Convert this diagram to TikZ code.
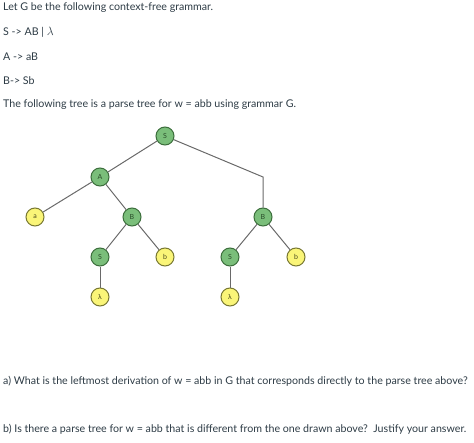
\documentclass[tikz,border=0pt]{standalone}
\usepackage{fontspec}
\setmainfont{Lato}
\usepackage{xcolor}

\definecolor{nodegreen}{RGB}{122,190,122}
\definecolor{edgegreen}{RGB}{60,110,60}
\definecolor{nodeyellow}{RGB}{250,245,120}
\definecolor{edgeyellow}{RGB}{120,120,50}
\definecolor{linegray}{RGB}{105,105,105}
\definecolor{textgray}{RGB}{45,59,69}

\begin{document}
\begin{tikzpicture}[x=1pt,y=-1pt,
  var/.style={circle,draw=edgegreen,fill=nodegreen,line width=1pt,minimum size=18pt,inner sep=0pt,font=\fontsize{7}{7}\selectfont,text=edgegreen!70!black},
  term/.style={circle,draw=edgeyellow,fill=nodeyellow,line width=1pt,minimum size=18pt,inner sep=0pt,font=\fontsize{7}{7}\selectfont,text=edgeyellow!60!black},
  txt/.style={anchor=west,inner sep=0pt,text=textgray,font=\fontsize{10.65}{12}\selectfont}]
\useasboundingbox (0,0) rectangle (474,442);

\node[txt] (l1) at (3,8) {Let G be the following context-free grammar.};
\node[txt] (l2) at (3,32) {S -> AB | \large$\lambda$};
\node[txt] (l3) at (3,57) {A -> aB};
\node[txt] (l4) at (3,81) {B-> Sb};
\node[txt] (l5) at (3,105) {The following tree is a parse tree for w = abb using grammar G.};

\node[var] (s0) at (165,136) {S};
\node[var] (a0) at (100,177) {A};
\node[term] (ta) at (35,217) {a};
\node[var] (b1) at (132,217) {B};
\node[var] (s1) at (100,257) {S};
\node[term] (tb1) at (165,257) {b};
\node[term] (l1a) at (100,297) {λ};
\node[var] (b2) at (263,217) {B};
\node[var] (s2) at (230,257) {S};
\node[term] (tb2) at (296,257) {b};
\node[term] (l2a) at (230,297) {λ};
\coordinate (bend) at (263,177);

\begin{scope}[linegray,line width=1pt]
\draw (s0) -- (a0);
\draw (s0) -- (bend) -- (b2);
\draw (a0) -- (ta);
\draw (a0) -- (b1);
\draw (b1) -- (s1);
\draw (b1) -- (tb1);
\draw (s1) -- (l1a);
\draw (b2) -- (s2);
\draw (b2) -- (tb2);
\draw (s2) -- (l2a);
\end{scope}

\node[txt] (qa) at (3,381) {a) What is the leftmost derivation of w = abb in G that corresponds directly to the parse tree above?};
\node[txt] (qb) at (3,429) {b) Is there a parse tree for w = abb that is different from the one drawn above?\ \ Justify your answer.};

\end{tikzpicture}
\end{document}
